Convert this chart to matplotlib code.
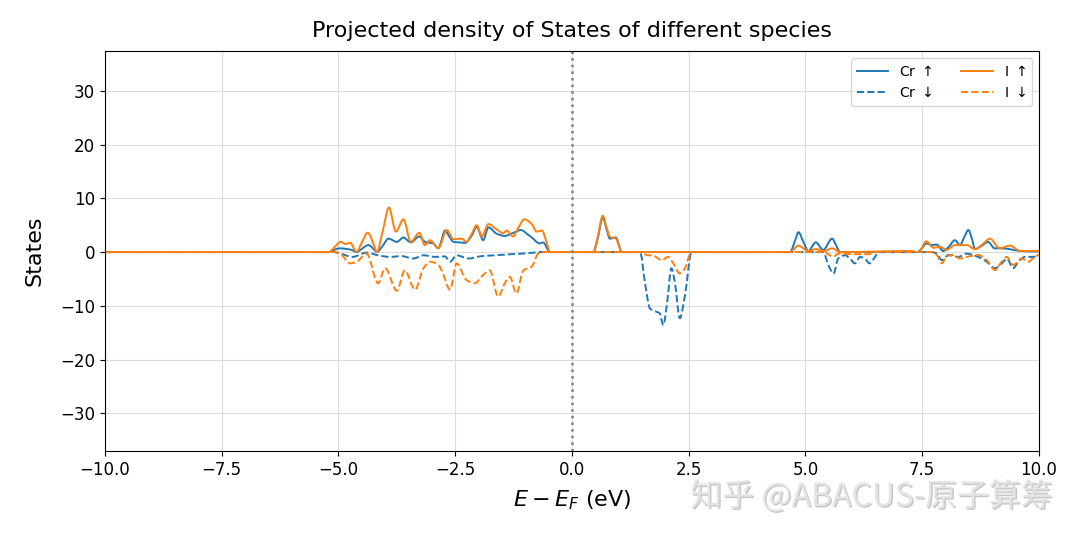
import matplotlib
matplotlib.use("Agg")
import numpy as np
import matplotlib.pyplot as plt
import matplotlib.patheffects as pe
from matplotlib.path import Path
from matplotlib.patches import PathPatch
from matplotlib.lines import Line2D

# ---- data ----
cr_up_E = [-10, -5.2, -5.15, -4.97, -4.85, -4.72, -4.61, -4.5, -4.36, -4.25, -4.18, -4.05, -3.93, -3.75,
           -3.61, -3.45, -3.27, -3.15, -2.97, -2.86, -2.8, -2.72, -2.62, -2.54, -2.4, -2.29, -2.15, -2.04,
           -1.90, -1.79, -1.61, -1.44, -1.25, -1.09, -0.95, -0.86, -0.69, -0.62, -0.47, 0.46, 0.55, 0.66,
           0.75, 0.81, 0.94, 1.0, 1.06, 4.67, 4.78, 4.85, 4.95, 5.06, 5.22, 5.38, 5.57, 5.66, 5.74, 7.4,
           7.5, 7.59, 7.7, 7.81, 7.95, 8.05, 8.2, 8.31, 8.4, 8.49, 8.57, 8.63, 8.78, 8.91, 9.05, 9.2, 9.4,
           9.6, 10]
cr_up = [0, 0, 0.2, 0.7, 0.6, 0.4, 0.0, 0.6, 1.3, 0.6, 0.0, 1.2, 2.5, 1.9,
         2.7, 1.8, 2.9, 1.9, 1.6, 0.7, 2.0, 4.0, 2.8, 1.9, 1.8, 1.7, 3.0, 4.7,
         2.2, 4.6, 3.4, 3.0, 3.6, 4.1, 3.3, 2.7, 1.6, 1.8, 0, 0, 2.5, 6.4,
         4.0, 2.5, 2.7, 1.5, 0, 0, 2.2, 3.7, 2.0, 0.2, 1.8, 0.4, 2.5, 1.2, 0, 0,
         0.8, 1.6, 1.3, 1.4, 0.2, 0.8, 2.2, 1.3, 2.8, 4.1, 2.3, 0.55, 1.2, 1.9, 0.7, 0.7, 0.5,
         0.2, 0.1]

i_up_E = [-10, -5.2, -5.1, -4.95, -4.85, -4.75, -4.61, -4.5, -4.375, -4.25, -4.18, -4.05, -3.92, -3.77,
          -3.61, -3.45, -3.27, -3.15, -3.04, -2.86, -2.68, -2.54, -2.36, -2.26, -2.15, -2.04, -1.93,
          -1.79, -1.61, -1.47, -1.40, -1.26, -1.15, -1.02, -0.86, -0.76, -0.64, -0.55, -0.47, 0.46, 0.55,
          0.66, 0.75, 0.81, 0.94, 1.0, 1.06, 4.67, 4.85, 5.06, 5.22, 5.4, 5.57, 5.75, 7.25, 7.42, 7.59,
          7.74, 7.88, 8.02, 8.2, 8.45, 8.63, 8.8, 8.95, 9.16, 9.38, 9.6, 10]
i_up = [0, 0, 0.8, 1.9, 1.5, 1.7, 0.05, 1.8, 3.6, 1.5, 0.0, 4.0, 8.3, 3.8,
        6.1, 1.9, 3.6, 1.3, 2.2, 0.7, 4.1, 2.4, 2.5, 1.9, 3.3, 5.0, 2.9,
        5.2, 4.2, 3.5, 4.0, 2.9, 4.5, 6.1, 5.2, 3.8, 4.0, 2.0, 0, 0, 2.8,
        6.75, 4.3, 2.85, 2.5, 1.3, 0, 0, 1.2, 0.2, 0.55, 0.2, 0.7, 0, 0.2, 0, 2.0,
        0.8, 1.0, 0.4, 1.3, 1.3, 0.55, 1.5, 2.5, 0.7, 1.2, 0.2, 0.2]

cr_dn_E = [-10, -5.1, -4.97, -4.7, -4.4, -4.15, -3.9, -3.65, -3.4, -3.18, -2.93, -2.72, -2.61, -2.47,
           -2.22, -1.93, -1.65, -1.3, -0.8, -0.72, 1.46, 1.56, 1.67, 1.78, 1.88, 1.955, 2.04, 2.13, 2.2,
           2.31, 2.42, 2.56, 5.38, 5.49, 5.6, 5.7, 5.85, 5.95, 6.06, 6.17, 6.27, 6.37, 6.49, 6.56, 7.7,
           7.81, 7.92, 8.06, 8.27, 8.45, 8.7, 8.88, 9.06, 9.24, 9.31, 9.45, 9.56, 9.7, 9.88, 10]
cr_dn = [0, 0, -0.25, -0.9, -0.1, -0.6, -0.9, -0.75, -1.2, -0.6, -0.9, -0.8, -1.8, -0.6,
         -1.2, -0.75, -0.6, -0.4, -0.1, 0, 0, -5.5, -10.5, -11.0, -11.4, -13.6, -9.2, -3.0, -5.5,
         -12.3, -8.0, 0, 0, -2.4, -4.0, -1.2, -0.6, -1.2, -2.1, -0.9, -1.2, -2.1, -0.9, 0, 0,
         -0.25, -1.5, -0.55, -0.9, -0.3, -0.9, -1.8, -3.0, -1.8, -1.2, -3.0, -1.8, -0.9, -0.9, -0.55]

i_dn_E = [-10, -5.1, -4.97, -4.75, -4.61, -4.40, -4.15, -4.0, -3.75, -3.58, -3.36, -3.18, -3.04, -2.86,
          -2.79, -2.61, -2.47, -2.26, -2.08, -1.93, -1.76, -1.58, -1.44, -1.33, -1.19, -1.04, -0.86,
          -0.72, -0.64, 1.46, 1.6, 1.75, 1.92, 2.06, 2.17, 2.31, 2.42, 2.52, 2.56, 5.4, 5.5, 5.6, 5.7,
          6.0, 6.35, 6.5, 7.7, 7.81, 7.92, 8.02, 8.16, 8.31, 8.45, 8.7, 8.88, 9.06, 9.2, 9.31, 9.45,
          9.63, 9.77, 9.91, 10]
i_dn = [0, 0, -0.25, -2.1, -1.8, -0.25, -5.8, -3.0, -7.2, -3.4, -7.0, -3.0, -1.8, -2.4,
        -3.4, -7.0, -2.1, -5.2, -5.8, -4.5, -3.4, -8.3, -5.8, -4.6, -7.7, -3.4, -2.7,
        -0.25, 0, 0, -0.55, -0.7, -1.5, -0.9, -2.1, -4.0, -3.0, -0.5, 0, 0, -0.5, -0.9, -0.3,
        -0.4, -0.4, 0, 0, -0.5, -2.1, -0.8, -0.55, -1.2, -0.9, -0.55, -1.5, -3.35, -1.8, -0.9, -2.4,
        -1.2, -1.8, -0.9, -0.55]

series_labels = ["Cr $\\uparrow$", "Cr $\\downarrow$", "I $\\uparrow$", "I $\\downarrow$"]
x_ticks = [-10.0, -7.5, -5.0, -2.5, 0.0, 2.5, 5.0, 7.5, 10.0]
y_ticks = [-30, -20, -10, 0, 10, 20, 30]


def smooth_path(xs, ys):
    """Path through the read points, drawn as monotone cubic Bezier segments."""
    x = np.asarray(xs, float)
    y = np.asarray(ys, float)
    h = np.diff(x)
    d = np.diff(y) / h
    m = np.zeros_like(x)
    for k in range(1, len(x) - 1):
        if d[k - 1] * d[k] > 0:
            w1 = 2 * h[k] + h[k - 1]
            w2 = h[k] + 2 * h[k - 1]
            m[k] = (w1 + w2) / (w1 / d[k - 1] + w2 / d[k])
    verts = [(x[0], y[0])]
    codes = [Path.MOVETO]
    for k in range(len(x) - 1):
        verts += [(x[k] + h[k] / 3, y[k] + m[k] * h[k] / 3),
                  (x[k + 1] - h[k] / 3, y[k + 1] - m[k + 1] * h[k] / 3),
                  (x[k + 1], y[k + 1])]
        codes += [Path.CURVE4] * 3
    return Path(verts, codes)


fig = plt.figure(figsize=(10.8, 5.4), dpi=100)
ax = fig.add_axes([0.0972, 0.1648, 0.8648, 0.7408])

blue, orange = "#1f77b4", "#ff7f0e"
lw = 1.4
specs = [(cr_up_E, cr_up, blue, "-"), (cr_dn_E, cr_dn, blue, "--"),
         (i_up_E, i_up, orange, "-"), (i_dn_E, i_dn, orange, "--")]
handles = []
for (xe, yv, col, ls), lab in zip(specs, series_labels):
    ax.add_patch(PathPatch(smooth_path(xe, yv), fill=False, edgecolor=col, lw=lw, ls=ls,
                           capstyle="butt", joinstyle="round"))
    handles.append(Line2D([], [], color=col, lw=lw, ls=ls, label=lab))

ax.axvline(0, color="gray", ls=":", lw=1.8)
ax.set_xlim(-10, 10)
ax.set_ylim(-37.0, 37.4)
ax.set_xticks(x_ticks)
ax.set_yticks(y_ticks)
ax.grid(True, color="#dddddd", lw=0.8)
ax.set_axisbelow(True)
ax.tick_params(labelsize=12)
ax.set_xlabel("$E-E_F$ (eV)", fontsize=16, labelpad=7)
ax.set_ylabel("States", fontsize=16, labelpad=11)
ax.set_title("Projected density of States of different species", fontsize=16, pad=10)

ax.legend(handles=handles, ncol=2, loc="upper right", fontsize=10.2,
          handlelength=2.2, columnspacing=2.0)

fig.text(0.975, 0.080, "知乎 @ABACUS-原子算筹", ha="right", va="center", fontsize=23,
         color="#e4e4e4", family=["Noto Sans CJK SC", "DejaVu Sans"],
         path_effects=[pe.withSimplePatchShadow(offset=(1, -1), shadow_rgbFace="#9a9a9a", alpha=0.55)])

fig.savefig("out.png", dpi=100)
